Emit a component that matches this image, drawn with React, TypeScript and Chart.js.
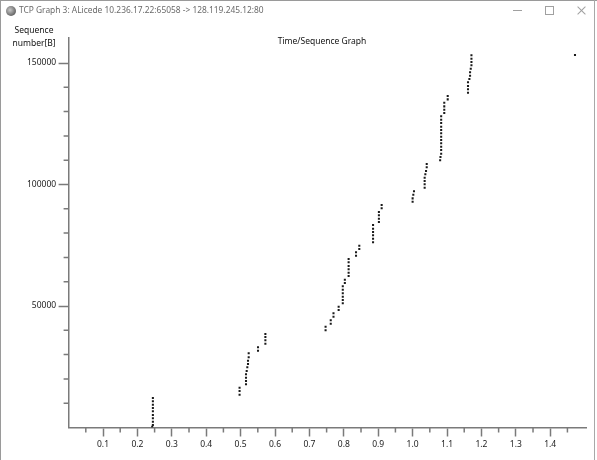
import React, { useEffect, useRef } from "react";
import { Chart, registerables } from "chart.js";

Chart.register(...registerables);

// ---- Data ----
// Send time of each segment [s]
const sendTimes: number[] = [
  0.243, 0.245, 0.245, 0.245, 0.245, 0.245, 0.245, 0.245, 0.245, 0.245,
  0.497, 0.497, 0.497,
  0.5157, 0.5157, 0.5157, 0.5157, 0.5177, 0.5195, 0.5215, 0.5215, 0.5235, 0.5235,
  0.5506, 0.5506,
  0.572, 0.572, 0.572, 0.572,
  0.747, 0.747,
  0.762, 0.762,
  0.770, 0.770,
  0.785, 0.785,
  0.797, 0.797, 0.797, 0.797, 0.797, 0.797,
  0.803, 0.803,
  0.814, 0.814, 0.814, 0.814, 0.814, 0.814,
  0.8355, 0.8355,
  0.845, 0.845,
  0.885, 0.885, 0.885, 0.885, 0.885, 0.885,
  0.902, 0.902, 0.902, 0.902,
  0.910, 0.910,
  1.0, 1.0, 1.002, 1.004,
  1.035, 1.035, 1.035, 1.035, 1.037, 1.039, 1.041, 1.041,
  1.080, 1.081, 1.083, 1.083, 1.083, 1.083, 1.083, 1.083, 1.083, 1.083, 1.083, 1.083, 1.083, 1.083,
  1.092, 1.092, 1.092, 1.092,
  1.102, 1.102,
  1.161, 1.161, 1.161, 1.161,
  1.165, 1.167, 1.167, 1.169, 1.171, 1.171, 1.171, 1.171,
  1.472,
];

// Sequence number of each segment [B]
const sequenceNumbers: number[] = [
  300, 1030, 2390, 3790, 5140, 6660, 8030, 9380, 10780, 12140,
  13500, 15020, 16380,
  17780, 19140, 20490, 21890, 23250, 24770, 26130, 27490, 28890, 30530,
  31600, 33000,
  34480, 35880, 37240, 38480,
  40000, 41480,
  42710, 44110,
  45600, 47000,
  48350, 49700,
  51100, 52470, 53830, 55220, 56700, 58100,
  59460, 60820,
  62340, 63700, 65100, 66460, 67980, 69340,
  70700, 72100,
  73450, 74800,
  76200, 77700, 79100, 80450, 81800, 83330,
  84560, 85920, 87320, 88680,
  90200, 91560,
  92900, 94300, 95800, 97200,
  98680, 100080, 101440, 102800, 104190, 105550, 107070, 108430,
  109950, 111310, 112670, 114190, 115550, 116950, 118320, 119670, 121070, 122420, 123780, 125300, 126660, 128060,
  129420, 130780, 132170, 133650,
  135050, 136410,
  137770, 139170, 140530, 142050,
  143410, 144770, 146170, 147650, 149050, 150400, 151760, 153160,
  153280,
];

// Axis ranges
const xRange: number[] = [0, 1.504];
const yRange: number[] = [0, 160300];

// Tick marks (major ones carry labels)
const xMajorTicks: number[] = [0.1, 0.2, 0.3, 0.4, 0.5, 0.6, 0.7, 0.8, 0.9, 1.0, 1.1, 1.2, 1.3, 1.4];
const xMinorTicks: number[] = [0.05, 0.15, 0.25, 0.35, 0.45, 0.55, 0.65, 0.75, 0.85, 0.95, 1.05, 1.15, 1.25, 1.35, 1.45];
const xTickLabels: string[] = ["0.1", "0.2", "0.3", "0.4", "0.5", "0.6", "0.7", "0.8", "0.9", "1.0", "1.1", "1.2", "1.3", "1.4"];
const yMajorTicks: number[] = [50000, 100000, 150000];
const yMinorTicks: number[] = [
  10000, 20000, 30000, 40000, 60000, 70000, 80000, 90000,
  110000, 120000, 130000, 140000,
];
const yTickLabels: string[] = ["50000", "100000", "150000"];

const windowTitle = "TCP Graph 3: ALicede 10.236.17.22:65058 -> 128.119.245.12:80";
const chartTitle = "Time/Sequence Graph";
const yTitleLines: string[] = ["Sequence", "number[B]"];

const AXIS_COLOR = "#7a7a7a";
const FONT = "'Noto Sans', 'Open Sans', sans-serif";

const minorTickPlugin = {
  id: "minorTicks",
  afterDraw(chart: any) {
    const ctx = chart.ctx;
    const xs = chart.scales.x;
    const ys = chart.scales.y;
    ctx.save();
    ctx.strokeStyle = AXIS_COLOR;
    ctx.lineWidth = 1.5;
    ctx.beginPath();
    xMinorTicks.forEach((v) => {
      const px = xs.getPixelForValue(v);
      ctx.moveTo(px, xs.top);
      ctx.lineTo(px, xs.top + 5);
    });
    yMinorTicks.forEach((v) => {
      const py = ys.getPixelForValue(v);
      ctx.moveTo(ys.right - 5, py);
      ctx.lineTo(ys.right, py);
    });
    ctx.stroke();
    ctx.restore();
  },
};

export default function App() {
  const canvasRef = useRef<HTMLCanvasElement | null>(null);

  useEffect(() => {
    document.body.style.margin = "0";
    const canvas = canvasRef.current;
    if (!canvas) return;
    const points = sendTimes.map((t, i) => ({ x: t, y: sequenceNumbers[i] }));
    const chart = new Chart(canvas, {
      type: "scatter",
      data: {
        datasets: [
          {
            data: points,
            pointStyle: "rect",
            pointRadius: 1.45,
            pointBorderWidth: 0,
            backgroundColor: "#1a1a1a",
            borderColor: "#1a1a1a",
          },
        ],
      },
      options: {
        animation: false,
        responsive: false,
        devicePixelRatio: 1,
        layout: { padding: { left: 0, top: 38, right: 11, bottom: 0 } },
        plugins: {
          legend: { display: false },
          tooltip: { enabled: false },
          title: { display: false },
        },
        scales: {
          x: {
            type: "linear",
            position: "bottom",
            min: xRange[0],
            max: xRange[1],
            afterFit: (s: any) => {
              s.height = 32.5;
            },
            afterBuildTicks: (s: any) => {
              s.ticks = xMajorTicks.map((v) => ({ value: v }));
            },
            border: { display: true, color: AXIS_COLOR, width: 1.5 },
            grid: {
              display: true,
              drawOnChartArea: false,
              drawTicks: true,
              tickLength: 9,
              tickWidth: 1.5,
              tickColor: AXIS_COLOR,
            },
            ticks: {
              autoSkip: false,
              maxRotation: 0,
              minRotation: 0,
              padding: 3,
              color: "#222",
              font: { family: FONT, size: 8.5 },
              callback: (_v: any, i: number) => xTickLabels[i],
            },
          },
          y: {
            type: "linear",
            position: "left",
            min: yRange[0],
            max: yRange[1],
            afterFit: (s: any) => {
              s.width = 68.6;
            },
            afterBuildTicks: (s: any) => {
              s.ticks = yMajorTicks.map((v) => ({ value: v }));
            },
            border: { display: true, color: AXIS_COLOR, width: 1.5 },
            grid: {
              display: true,
              drawOnChartArea: false,
              drawTicks: true,
              tickLength: 10,
              tickWidth: 1.5,
              tickColor: AXIS_COLOR,
            },
            ticks: {
              autoSkip: false,
              padding: 2.5,
              color: "#222",
              font: { family: FONT, size: 8.5 },
              callback: (_v: any, i: number) => yTickLabels[i],
            },
          },
        },
      },
      plugins: [minorTickPlugin],
    } as any);
    return () => chart.destroy();
  }, []);

  const textStyle: React.CSSProperties = {
    position: "absolute",
    fontFamily: FONT,
    fontSize: "8.5px",
    lineHeight: "10px",
    whiteSpace: "nowrap",
    color: "#111",
  };

  return (
    <div
      style={{
        position: "fixed",
        left: 0,
        top: 0,
        width: 597,
        height: 460,
        background: "#fff",
        overflow: "hidden",
      }}
    >
      <canvas
        ref={canvasRef}
        width={597}
        height={460}
        style={{ position: "absolute", left: 0, top: 0, width: 597, height: 460, display: "block" }}
      />
      {/* window frame */}
      <div style={{ position: "absolute", left: 0, top: 0, width: 597, height: 1, background: "#9a9a9a" }} />
      <div style={{ position: "absolute", left: 0, top: 0, width: 1, height: 460, background: "#9a9a9a" }} />
      <div style={{ position: "absolute", left: 594, top: 0, width: 1, height: 460, background: "#a8a8a8" }} />
      {/* title bar */}
      <div
        style={{
          position: "absolute",
          left: 6,
          top: 6,
          width: 10,
          height: 10,
          borderRadius: "50%",
          background: "radial-gradient(circle at 40% 40%, #c8c8c8 0%, #8a8a8a 45%, #3c3c3c 100%)",
        }}
      />
      <div style={{ ...textStyle, left: 19, top: 5, fontSize: "8.4px", color: "#6a6a6a" }}>{windowTitle}</div>
      <div style={{ position: "absolute", left: 513, top: 10, width: 9, height: 1, background: "#a0a0a0" }} />
      <div
        style={{
          position: "absolute",
          left: 545,
          top: 6,
          width: 7,
          height: 7,
          border: "1px solid #a0a0a0",
        }}
      />
      <div
        style={{
          position: "absolute",
          left: 576,
          top: 10,
          width: 11,
          height: 1,
          background: "#a0a0a0",
          transform: "rotate(45deg)",
        }}
      />
      <div
        style={{
          position: "absolute",
          left: 576,
          top: 10,
          width: 11,
          height: 1,
          background: "#a0a0a0",
          transform: "rotate(-45deg)",
        }}
      />
      {/* chart titles */}
      <div style={{ ...textStyle, left: 322, top: 36, transform: "translateX(-50%)" }}>{chartTitle}</div>
      <div style={{ ...textStyle, left: 34, top: 25, transform: "translateX(-50%)", textAlign: "center" }}>
        {yTitleLines[0]}
      </div>
      <div style={{ ...textStyle, left: 34, top: 38, transform: "translateX(-50%)", textAlign: "center" }}>
        {yTitleLines[1]}
      </div>
    </div>
  );
}
